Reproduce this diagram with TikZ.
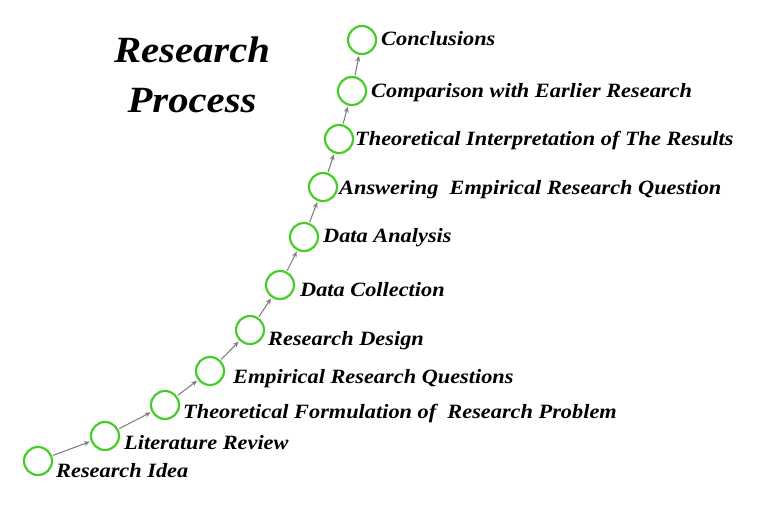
\documentclass[tikz,border=0pt]{standalone}
\usepackage{fontspec}
\setmainfont{Liberation Serif}[FakeStretch=1.1]
\usetikzlibrary{arrows.meta}
\definecolor{cgreen}{RGB}{70,205,40}
\begin{document}
\begin{tikzpicture}[x=1pt,y=-1pt,
  stepc/.style={circle,draw=cgreen,line width=2.2pt,minimum size=28pt,inner sep=0pt},
  lab/.style={anchor=west,inner sep=0pt,font=\fontsize{20.3}{22}\selectfont\bfseries\itshape},
  conn/.style={draw=gray,line width=1.1pt,-{Stealth[length=6pt,width=5pt]},shorten <=1pt,shorten >=1pt}]
\useasboundingbox (0,0) rectangle (768,525);
\node[stepc] (c1) at (38,461) {};
\node[stepc] (c2) at (105,436) {};
\node[stepc] (c3) at (165,405) {};
\node[stepc] (c4) at (210,371) {};
\node[stepc] (c5) at (250,330) {};
\node[stepc] (c6) at (280,285) {};
\node[stepc] (c7) at (304,237) {};
\node[stepc] (c8) at (323,187) {};
\node[stepc] (c9) at (339,139) {};
\node[stepc] (c10) at (352,91) {};
\node[stepc] (c11) at (362,40) {};
\foreach \a/\b in {c1/c2,c2/c3,c3/c4,c4/c5,c5/c6,c6/c7,c7/c8,c8/c9,c9/c10,c10/c11}
  \draw[conn] (\a) -- (\b);
\node[lab] (l1) at (56,471) {Research Idea};
\node[lab] (l2) at (124,443) {Literature Review};
\node[lab] (l3) at (183,414) {Theoretical Formulation of\ \ Research Problem};
\node[lab] (l4) at (233,379) {Empirical Research Questions};
\node[lab] (l5) at (268,341) {Research Design};
\node[lab] (l6) at (300,290) {Data Collection};
\node[lab] (l7) at (323,238) {Data Analysis};
\node[lab] (l8) at (339,190) {Answering\ \ Empirical Research Question};
\node[lab] (l9) at (355,141) {Theoretical Interpretation of The Results};
\node[lab] (l10) at (371,93) {Comparison with Earlier Research};
\node[lab] (l11) at (381,39) {Conclusions};
\node[font=\fontsize{37}{50}\selectfont\bfseries\itshape,align=center] (title) at (192,75) {Research\\Process};
\end{tikzpicture}
\end{document}
